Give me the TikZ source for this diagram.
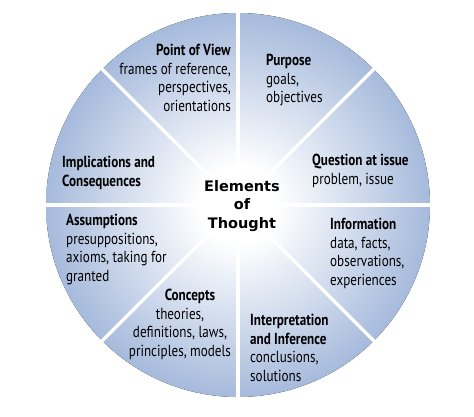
\documentclass[tikz,border=0pt]{standalone}
\usepackage{fontspec}
\setmainfont{PT Sans}[FakeStretch=0.82]
\newfontfamily\corefont{DejaVu Sans}
\usepackage{xcolor}
\usepackage{tikz}
\usetikzlibrary{positioning}
\definecolor{rimblue}{RGB}{166,186,220}
\pgfdeclareradialshading{thought}{\pgfpoint{0bp}{0bp}}{color(0bp)=(white); color(5bp)=(white); color(25bp)=(rimblue); color(50bp)=(rimblue)}

\begin{document}
\begin{tikzpicture}[
  x=1pt,y=-1pt,
  elem/.style={inner sep=0pt,font=\fontsize{16}{18.5}\selectfont},
  lft/.style={elem,align=left,anchor=north west},
  rgt/.style={elem,align=right,anchor=north east},
  sep/.style={white,line width=3.5pt}
]
\useasboundingbox (0,0) rectangle (474,417);
\coordinate (c) at (238,205);
\fill[shading=thought] (c) circle (192pt);
\foreach \a in {0,45,...,315}
  \draw[sep] (c) -- ++(\a:193pt);

\node[elem,align=center,font=\corefont\bfseries\fontsize{14.5}{18.5}\selectfont] (core) at (242,206)
  {Elements\\of\\Thought};

\node[rgt] (pov) at (231,44)
  {\textbf{Point of View}\\frames of reference,\\perspectives,\\orientations};
\node[lft] (purp) at (266,54)
  {\textbf{Purpose}\\goals,\\objectives};
\node[lft] (quest) at (312,154)
  {\textbf{Question at issue}\\problem, issue};
\node[lft] (info) at (330,218)
  {\textbf{Information}\\data, facts,\\observations,\\experiences};
\node[lft] (interp) at (250,314)
  {\textbf{Interpretation}\\\textbf{and Inference}\\conclusions,\\solutions};
\node[elem,align=center,anchor=north] (conc) at (180,289)
  {\hspace*{20pt}\textbf{Concepts}\\theories,\\definitions, laws,\\principles, models};
\node[lft] (assum) at (66,214)
  {\textbf{Assumptions}\\presuppositions,\\axioms, taking for\\granted};
\node[lft] (implic) at (62,156)
  {\textbf{Implications and}\\\textbf{Consequences}};
\end{tikzpicture}
\end{document}
